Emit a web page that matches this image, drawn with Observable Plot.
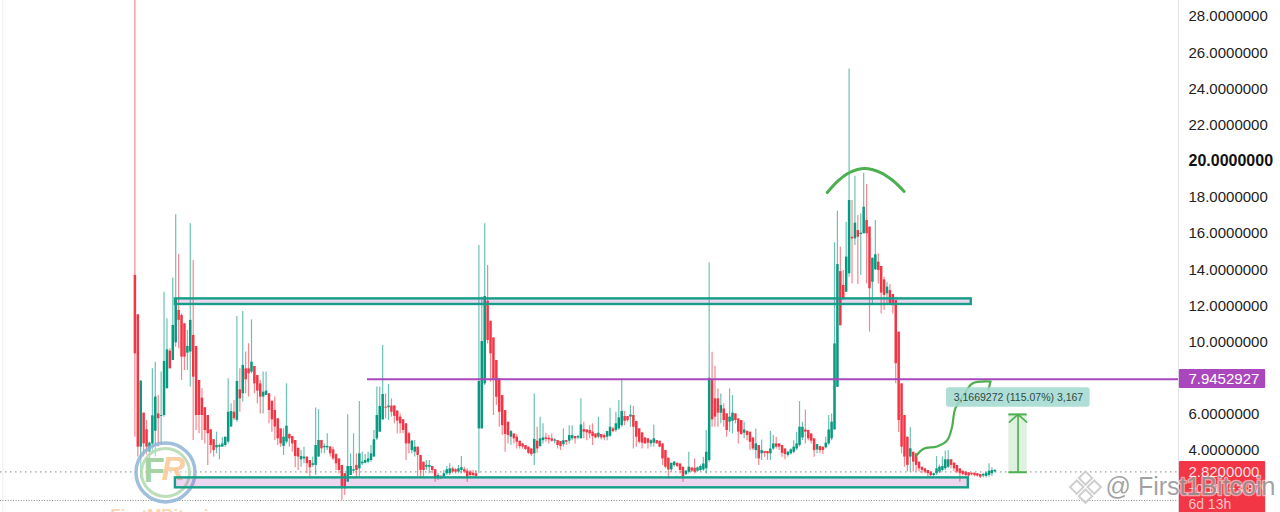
<!DOCTYPE html>
<html>
<head>
<meta charset="utf-8">
<script src="https://cdn.jsdelivr.net/npm/d3@7"></script>
<script src="https://cdn.jsdelivr.net/npm/@observablehq/plot@0.6"></script>
<style>
html,body{margin:0;padding:0;background:#fff;}
svg{display:block;}
</style>
</head>
<body>
<div id="chart"></div>
<script>
const highs = [31,11.51,7.88,6.07,5.67,4.47,8.52,8.89,7.05,8.34,
12.76,11.29,9.63,13.54,17.04,14.85,11.56,11.01,10.64,16.54,
14.52,9.76,7.88,7.42,6.37,5.94,5.15,4.6,5.02,4.37,
4.74,4.74,7.97,6.59,6.77,11.42,8.52,11.69,9.45,9.91,
11.23,8.65,8.15,7.88,8.34,8.34,7.14,6.73,6.96,5.76,
5.2,5.2,7.69,4.93,4.78,4.56,4.13,4.0,4.19,3.64,
3.45,3.64,6.35,6.26,4.56,4.37,4.93,4.23,4.19,3.82,
3.54,3.18,2.72,5.98,3.82,4.93,3.82,6.72,3.91,3.78,
3.91,4.28,5.11,7.51,7.51,9.81,7.14,7.66,6.86,6.5,
6.22,6.03,5.7,5.48,5.02,4.56,4.56,4.19,3.73,3.36,
3.45,3.45,3.12,2.94,2.72,2.62,2.9,3.12,3.27,3.08,
3.0,3.18,3.67,3.08,2.99,2.9,2.9,2.9,15.34,12.49,
16.54,14.23,11.15,10.23,8.98,7.97,7.04,6.21,5.57,5.11,
4.92,4.89,4.52,4.37,4.28,4.19,4.09,7.13,5.29,5.85,
5.48,4.96,4.83,4.92,4.65,4.55,4.5,5.2,4.55,5.38,
5.38,4.78,4.85,6.86,5.57,5.14,5.38,5.48,4.92,5.85,
4.89,4.92,5.05,6.34,5.29,6.12,6.77,7.97,6.16,5.88,
6.49,6.44,5.61,5.2,4.98,4.7,4.65,4.6,5.42,4.55,
4.52,4.37,4.0,3.58,3.3,3.4,3.3,3.26,3.08,2.9,
3.91,3.04,3.54,3.1,3.2,3.63,5.11,14.38,9.44,8.65,
7.41,7.13,6.58,6.03,7.41,7.04,6.03,5.75,5.66,5.57,
5.07,5.02,4.7,5.2,4.28,4.59,3.95,3.95,5.05,4.83,
4.74,4.37,4.28,4.09,3.95,4.1,4.55,5.02,6.71,5.57,
6.25,5.11,4.92,4.65,4.33,4.22,4.19,4.74,5.94,6.03,
15.5,17.24,15.25,13.96,16.63,25.11,17.83,19.18,17.0,17.09,
19.34,18.72,16.36,14.64,16.73,14.88,14.18,13.59,13.31,13.19,
12.63,12.3,10.55,7.69,5.94,4.74,5.26,3.91,3.82,3.36,
3.08,2.99,2.9,2.81,2.76,3.67,3.2,3.64,3.97,4.0,
3.49,3.31,3.18,2.99,2.86,2.81,2.77,2.75,2.75,2.72,
2.68,2.75,2.8,3.27,3.05,2.95];

const bodyTops = [13.69,11.51,7.84,6.07,5.15,4.41,5.92,6.96,6.03,5.94,
8.93,9.57,9.5,10.92,12.39,11.75,11.47,11.01,9.76,11.2,
10.37,9.76,7.88,6.9,6.37,5.94,5.15,4.6,4.28,4.28,
4.37,4.74,6.12,6.16,6.12,7.82,7.36,8.71,8.52,8.52,
8.89,8.65,8.15,7.69,7.23,7.29,7.14,6.73,6.22,5.76,
5.2,4.74,5.35,4.89,4.78,4.56,4.13,3.67,3.64,3.64,
3.45,3.27,4.28,4.56,4.56,4.23,4.23,4.19,4.04,3.78,
3.54,3.18,2.72,3.12,3.12,2.94,3.18,3.82,3.36,3.45,
3.54,3.82,4.6,5.94,6.44,7.1,6.4,6.46,6.46,6.46,
6.18,5.85,5.7,5.48,4.93,4.52,4.19,4.19,3.73,3.36,
3.18,3.18,3.12,2.94,2.62,2.53,2.72,2.94,2.99,2.99,
2.94,2.99,3.05,2.94,2.86,2.81,2.75,2.72,7.82,10.03,
12.52,12.26,11.15,10.23,8.98,7.97,7.04,6.21,5.57,5.05,
4.92,4.74,4.52,4.37,4.28,4.19,4.09,4.61,4.52,4.65,
4.7,4.7,4.68,4.65,4.59,4.55,4.5,4.55,4.55,4.83,
4.83,4.78,4.78,5.42,5.16,5.14,5.11,5.02,4.92,4.96,
4.89,4.83,5.05,5.29,5.2,5.48,5.81,6.16,5.88,5.88,
5.97,5.94,5.61,5.2,4.98,4.7,4.65,4.55,4.65,4.55,
4.52,4.37,4.0,3.58,3.3,3.36,3.3,3.26,3.08,2.86,
3.08,3.04,3.02,3.04,3.12,3.26,3.91,8.0,7.87,6.86,
6.86,6.49,6.3,6.03,5.85,6.07,6.03,5.75,5.66,5.14,
5.07,5.02,4.7,4.37,4.28,4.0,3.95,3.95,4.09,4.37,
4.37,4.37,4.28,4.09,3.91,4.04,4.19,4.37,5.29,5.29,
5.14,5.11,4.92,4.65,4.33,4.22,4.19,4.41,5.14,5.57,
9.9,14.29,13.9,13.13,14.7,17.83,15.8,16.58,16.17,16.02,
17.46,16.73,16.36,14.64,14.83,14.42,14.18,13.44,13.04,12.85,
12.63,12.3,10.55,7.69,5.94,4.74,4.1,3.91,3.82,3.36,
3.08,2.99,2.9,2.81,2.72,2.99,3.08,3.12,3.49,3.49,
3.49,3.31,3.18,2.99,2.86,2.81,2.77,2.75,2.75,2.72,
2.68,2.68,2.75,2.86,2.9,2.9];

const bodyBottoms = [9.35,4.19,4.19,4.37,4.19,3.91,4.37,5.07,5.76,5.89,
5.94,7.42,8.52,8.98,9.96,11.2,9.17,9.17,9.39,9.45,
8.06,5.94,5.94,5.94,5.11,4.93,4.28,4.0,4.15,4.19,
4.19,4.28,4.47,5.3,5.76,5.67,6.86,7.14,7.91,8.25,
8.34,7.69,7.29,6.96,6.96,7.05,6.22,5.7,5.3,4.65,
4.37,4.23,4.47,4.65,4.37,3.67,3.64,3.49,3.54,3.27,
3.05,3.18,3.18,3.64,4.1,4.15,4.15,3.82,3.54,3.27,
2.9,1.98,1.89,2.25,2.62,2.86,2.9,2.99,3.27,3.3,
3.36,3.45,3.64,4.65,5.02,5.7,6.35,6.37,6.12,5.89,
5.63,5.48,5.11,4.37,4.37,4.0,3.91,3.73,2.9,2.9,
3.08,3.08,2.9,2.44,2.44,2.44,2.53,2.72,2.72,2.81,
2.81,2.81,2.9,2.81,2.53,2.62,2.62,2.57,5.2,5.2,
7.69,10.09,9.35,7.87,6.95,6.12,5.38,4.89,4.83,4.74,
4.65,4.46,4.22,4.19,4.06,3.85,3.78,3.82,4.09,4.22,
4.55,4.61,4.59,4.52,4.52,4.28,4.22,4.33,4.46,4.52,
4.65,4.65,4.7,4.65,5.02,4.98,4.92,4.78,4.7,4.74,
4.7,4.7,4.74,4.79,5.05,5.11,5.2,5.38,5.62,5.66,
5.85,5.29,4.74,4.46,4.41,4.37,4.41,4.37,4.41,4.37,
4.19,3.54,3.08,2.93,2.93,3.17,3.12,2.9,2.56,2.67,
2.8,2.86,2.8,2.86,2.9,2.93,2.99,3.45,5.7,5.85,
6.07,6.07,5.66,5.11,5.57,5.62,5.66,5.02,4.89,4.96,
4.83,4.46,4.09,4.0,3.54,3.82,3.85,3.82,3.82,4.09,
4.19,4.19,3.85,3.78,3.73,3.82,3.91,4.09,4.28,4.7,
5.02,4.65,4.52,4.0,4.04,4.0,4.0,4.15,4.37,4.65,
5.14,7.5,10.9,12.39,12.76,13.78,15.71,15.71,15.8,15.95,
15.99,15.99,12.95,13.31,14.0,13.96,12.71,12.58,12.67,12.12,
12.02,8.8,5.66,4.19,3.64,3.18,3.64,3.36,3.18,2.99,
2.9,2.81,2.72,2.62,2.62,2.72,2.81,2.9,2.99,3.08,
3.18,2.99,2.81,2.72,2.68,2.62,2.59,2.66,2.62,2.59,
2.53,2.59,2.57,2.62,2.72,2.82];

const lows = [4.74,3.64,2.44,3.64,3.73,2.9,3.82,3.64,4.19,4.37,
5.85,7.42,8.52,8.98,9.72,9.63,7.88,8.43,8.43,7.51,
4.56,5.11,4.93,4.56,4.37,3.18,3.82,3.64,3.82,3.49,
4.19,4.19,4.37,5.3,5.67,5.57,6.12,6.68,7.14,6.96,
8.25,7.14,6.59,6.03,6.03,7.05,5.48,5.02,4.56,4.28,
4.19,3.73,4.37,4.19,3.91,3.05,2.9,3.08,3.27,2.72,
2.57,3.08,2.62,3.64,3.82,3.82,4.0,3.64,3.45,2.9,
2.72,1.24,1.52,2.25,2.62,2.72,2.53,2.53,3.18,3.27,
3.27,3.36,3.64,4.56,5.02,5.67,5.76,5.67,5.85,5.48,
4.93,4.93,4.93,3.45,3.82,3.82,3.64,2.53,2.53,2.53,
2.9,2.72,2.72,2.25,2.35,2.4,2.49,2.62,2.62,2.72,
2.7,2.72,2.72,2.72,2.25,2.53,2.53,2.53,2.72,5.2,
7.6,9.9,7.78,5.94,6.49,5.29,4.83,3.91,4.37,4.28,
4.37,4.09,4.09,4.09,4.0,3.78,3.67,3.17,3.85,4.19,
4.37,4.46,4.37,4.46,4.37,4.09,4.0,4.19,4.28,4.37,
4.55,4.37,4.6,4.65,4.65,4.55,4.65,4.28,4.65,4.65,
4.59,4.55,4.55,4.74,4.98,5.02,5.11,5.29,5.38,5.57,
5.29,4.09,4.19,4.37,4.09,4.37,4.09,4.19,4.19,4.37,
4.15,3.17,2.99,2.43,2.8,3.08,3.05,2.71,2.25,2.62,
2.71,2.8,2.71,2.8,2.85,2.86,2.71,3.36,5.29,5.29,
5.29,5.48,5.29,4.74,5.02,4.92,5.48,4.37,4.83,4.65,
4.55,4.0,4.0,3.54,3.17,3.45,3.63,3.45,3.45,4.0,
4.09,4.0,3.63,3.49,3.65,3.75,3.82,4.0,4.19,4.55,
4.37,4.55,4.37,3.63,3.82,3.82,3.78,4.09,4.28,4.55,
5.14,7.5,10.9,12.3,12.76,13.59,13.22,15.34,13.19,13.68,
15.99,13.22,10.55,12.12,13.96,13.22,11.56,11.75,12.12,12.02,
11.56,7.7,5.0,3.82,3.08,2.81,2.81,2.81,2.81,2.81,
2.72,2.72,2.49,2.53,2.53,2.62,2.72,2.81,2.9,2.99,
2.99,2.81,2.72,2.25,2.6,2.55,2.49,2.6,2.55,2.52,
2.45,2.5,2.49,2.53,2.57,2.78];

const rising = [0,0,1,0,0,1,1,1,0,1,
1,1,0,1,1,0,0,0,1,1,
0,0,0,0,0,0,0,0,1,1,
1,1,1,1,0,1,0,1,0,0,
1,0,0,0,1,1,0,0,0,0,
0,1,1,0,0,0,0,1,1,0,
0,1,1,1,0,1,1,0,0,0,
0,0,0,1,1,1,0,1,1,1,
1,1,1,1,1,1,0,1,0,0,
0,0,0,0,0,1,1,0,0,0,
1,1,0,0,1,0,1,1,1,0,
0,1,1,0,0,0,0,0,1,1,
1,0,0,0,0,0,0,0,0,1,
0,0,0,0,0,0,0,1,0,1,
1,0,0,0,1,0,0,1,0,1,
1,0,1,1,0,0,0,0,0,1,
0,0,1,1,0,1,1,1,0,0,
1,0,0,0,0,0,0,1,1,0,
0,0,0,0,1,1,0,0,0,1,
1,0,0,1,1,1,1,1,0,0,
0,1,0,0,1,1,0,0,0,1,
0,0,0,1,0,1,0,0,1,1,
0,0,0,0,1,1,1,1,1,1,
0,0,0,0,1,0,0,1,1,1,
1,1,0,0,1,1,0,1,0,1,
1,0,0,1,1,0,0,0,1,0,
0,0,0,0,0,0,1,0,0,0,
0,0,0,0,1,1,1,1,1,1,
0,0,0,0,0,0,0,0,0,0,
0,1,1,1,1,1];

const axisTicks = [4,6,10,12,14,16,18,22,24,26,28];
const boldTicks = [20];
const resistancePrice = 7.9452927;
const lastPrice = 2.82;
const lowestPrice = 1.24;

const arcBars = [237.5,241.4,245.2,250.3,255.8,260,263.9];
const arcPrices = [18.27,18.94,19.38,19.6,19.38,18.94,18.33];
const gainBars = [268.1,270.6,275.2,278.6,280.3,281.4,284.3,287.3,293.5];
const gainPrices = [3.73,4.1,4.23,4.56,5.29,6.31,7.05,7.71,7.82];

const green = "#089981", red = "#f23645", purple = "#ab47bc", drawGreen = "#4caf50";

const candles = highs.map((h, i) => ({
  i, high: h, top: bodyTops[i], bottom: bodyBottoms[i], low: lows[i], up: rising[i] === 1
}));
const colorOf = d => d.up ? green : red;
const boxes = [
  {x1: 13.9, x2: 286.9, y1: 12.08, y2: 12.39},
  {x1: 13.9, x2: 285.9, y1: 1.94, y2: 2.49}
];
const axisFormat = d => d.toFixed(7);

const chart = Plot.plot({
  width: 1280, height: 512,
  marginTop: 0, marginBottom: 0, marginLeft: 0, marginRight: 102,
  style: {fontFamily: "Liberation Sans, sans-serif", background: "#fff"},
  x: {axis: null, domain: [-46.1, 358]},
  y: {domain: [0.575, 28.894], axis: null},
  marks: [
    Plot.ruleX([-45.3], {stroke: "#eef0f3", strokeWidth: 1}),
    Plot.ruleX([358], {stroke: "#e0e3eb", strokeWidth: 1}),
    Plot.ruleY([lastPrice], {x1: -46.1, x2: 358, stroke: "#888", strokeDasharray: "1.5,3.5", strokeWidth: 1}),
    Plot.ruleY([lowestPrice], {x1: -46.1, x2: 358, stroke: "#888", strokeDasharray: "1,1.6", strokeWidth: 1}),
    // candles
    Plot.ruleX(candles, {x: "i", y1: "low", y2: "high", stroke: colorOf, strokeWidth: 1.2, strokeOpacity: 0.6}),
    Plot.ruleX(candles, {x: "i", y1: "bottom", y2: "top", stroke: colorOf, strokeWidth: 2.5}),
    // logo
    Plot.dot([{x: 10.5, y: 2.79}], {x: "x", y: "y", r: 29.5, stroke: "#8fb4d6", strokeWidth: 3.5, fill: "#fff", fillOpacity: 0.35, strokeOpacity: 0.85}),
    Plot.dot([{x: 10.5, y: 2.79}], {x: "x", y: "y", r: 24, stroke: "#b5dab0", strokeWidth: 3, fill: "none", strokeOpacity: 0.9}),
    Plot.text(["F"], {x: [6.6], y: [2.9], fontSize: 35, fontWeight: "bold", fill: "#a5d3a2"}),
    Plot.text(["R"], {x: [13.2], y: [2.95], fontSize: 33, fontWeight: "bold", fontStyle: "italic", fill: "#f8c48c", fillOpacity: 0.8}),
    Plot.text(["FirstMBitcoin"], {x: [10.2], y: [0.42], fontSize: 17, fontWeight: "bold", fill: "#f5a04a", fillOpacity: 0.45}),
    // zones
    Plot.rect(boxes, {x1: "x1", x2: "x2", y1: "y1", y2: "y2", fill: purple, fillOpacity: 0.22, stroke: "#169f88", strokeWidth: 2.4}),
    Plot.ruleY([resistancePrice], {x1: 79.8, x2: 358, stroke: purple, strokeWidth: 2}),
    // ruler
    Plot.rect([{x1: 299.8, x2: 306.1, y1: 2.8, y2: 6.0}], {x1: "x1", x2: "x2", y1: "y1", y2: "y2", fill: drawGreen, fillOpacity: 0.18}),
    Plot.ruleY([2.8, 6.0], {x1: 299.8, x2: 306.1, stroke: drawGreen, strokeWidth: 2}),
    Plot.ruleX([302.95], {y1: 2.8, y2: 6.0, stroke: drawGreen, strokeWidth: 1.6}),
    Plot.line([[300, 5.57], [302.95, 6.0], [305.9, 5.57]], {x: "0", y: "1", stroke: drawGreen, strokeWidth: 1.6}),
    // drawings
    Plot.line(arcBars.map((x, i) => [x, arcPrices[i]]), {x: "0", y: "1", stroke: drawGreen, strokeWidth: 3, curve: "catmull-rom", strokeLinecap: "round"}),
    Plot.line(gainBars.map((x, i) => [x, gainPrices[i]]), {x: "0", y: "1", stroke: drawGreen, strokeWidth: 2.2, curve: "catmull-rom", strokeLinecap: "round"}),
    Plot.line([[292.8, 7.33], [293.5, 7.82]], {x: "0", y: "1", stroke: drawGreen, strokeWidth: 2.2}),
    // measure label
    Plot.rect([{x1: 278.4, x2: 327.7, y1: 6.4, y2: 7.47}], {x1: "x1", x2: "x2", y1: "y1", y2: "y2", fill: "#a3dacf", fillOpacity: 0.88, rx: 3}),
    Plot.text(["3,1669272 (115.07%) 3,167"], {x: [303.1], y: [6.93], fontSize: 10.5, fill: "#2c4a45"}),
    // price axis
    Plot.axisY({anchor: "right", ticks: axisTicks, tickSize: 0, tickPadding: 10, tickFormat: axisFormat, fontSize: 15, label: null, color: "#222"}),
    Plot.axisY({anchor: "right", ticks: boldTicks, tickSize: 0, tickPadding: 10, tickFormat: axisFormat, fontSize: 16, fontWeight: "bold", label: null, color: "#111"}),
    // price labels
    Plot.rect([{x1: 358.3, x2: 387.9, y1: 7.44, y2: 8.49}], {x1: "x1", x2: "x2", y1: "y1", y2: "y2", fill: purple, rx: 1}),
    Plot.text([resistancePrice.toFixed(7)], {x: [361.4], y: [resistancePrice], textAnchor: "start", fontSize: 15, fill: "#fff"}),
    Plot.rect([{x1: 358.3, x2: 387.9, y1: 0.2, y2: 3.4}], {x1: "x1", x2: "x2", y1: "y1", y2: "y2", fill: red, rx: 1}),
    Plot.text([lastPrice.toFixed(7)], {x: [361.4], y: [lastPrice], textAnchor: "start", fontSize: 15, fill: "#fff", fillOpacity: 0.85}),
    Plot.text(["−0.11 (−3.87%)"], {x: [361.4], y: [1.9], textAnchor: "start", fontSize: 13, fill: "#fff", fillOpacity: 0.7}),
    Plot.text(["6d 13h"], {x: [361.4], y: [1.0], textAnchor: "start", fontSize: 14, fill: "#fff", fillOpacity: 0.7}),
    // watermark
    Plot.dot([[326.1, 2.48], [323.1, 1.98], [329.1, 1.98], [326.1, 1.48]], {x: "0", y: "1", symbol: "diamond2", r: 6, stroke: "#cfcfcf", strokeWidth: 2, fill: "#fff", fillOpacity: 0.4}),
    Plot.text(["@ First1Bitcoin"], {x: [333], y: [1.96], textAnchor: "start", fontSize: 25, fill: "#7e7e7e", fillOpacity: 0.72, stroke: "#fff", strokeOpacity: 0.55, strokeWidth: 2.5, paintOrder: "stroke"})
  ]
});
document.getElementById("chart").appendChild(chart);
</script>
</body>
</html>
